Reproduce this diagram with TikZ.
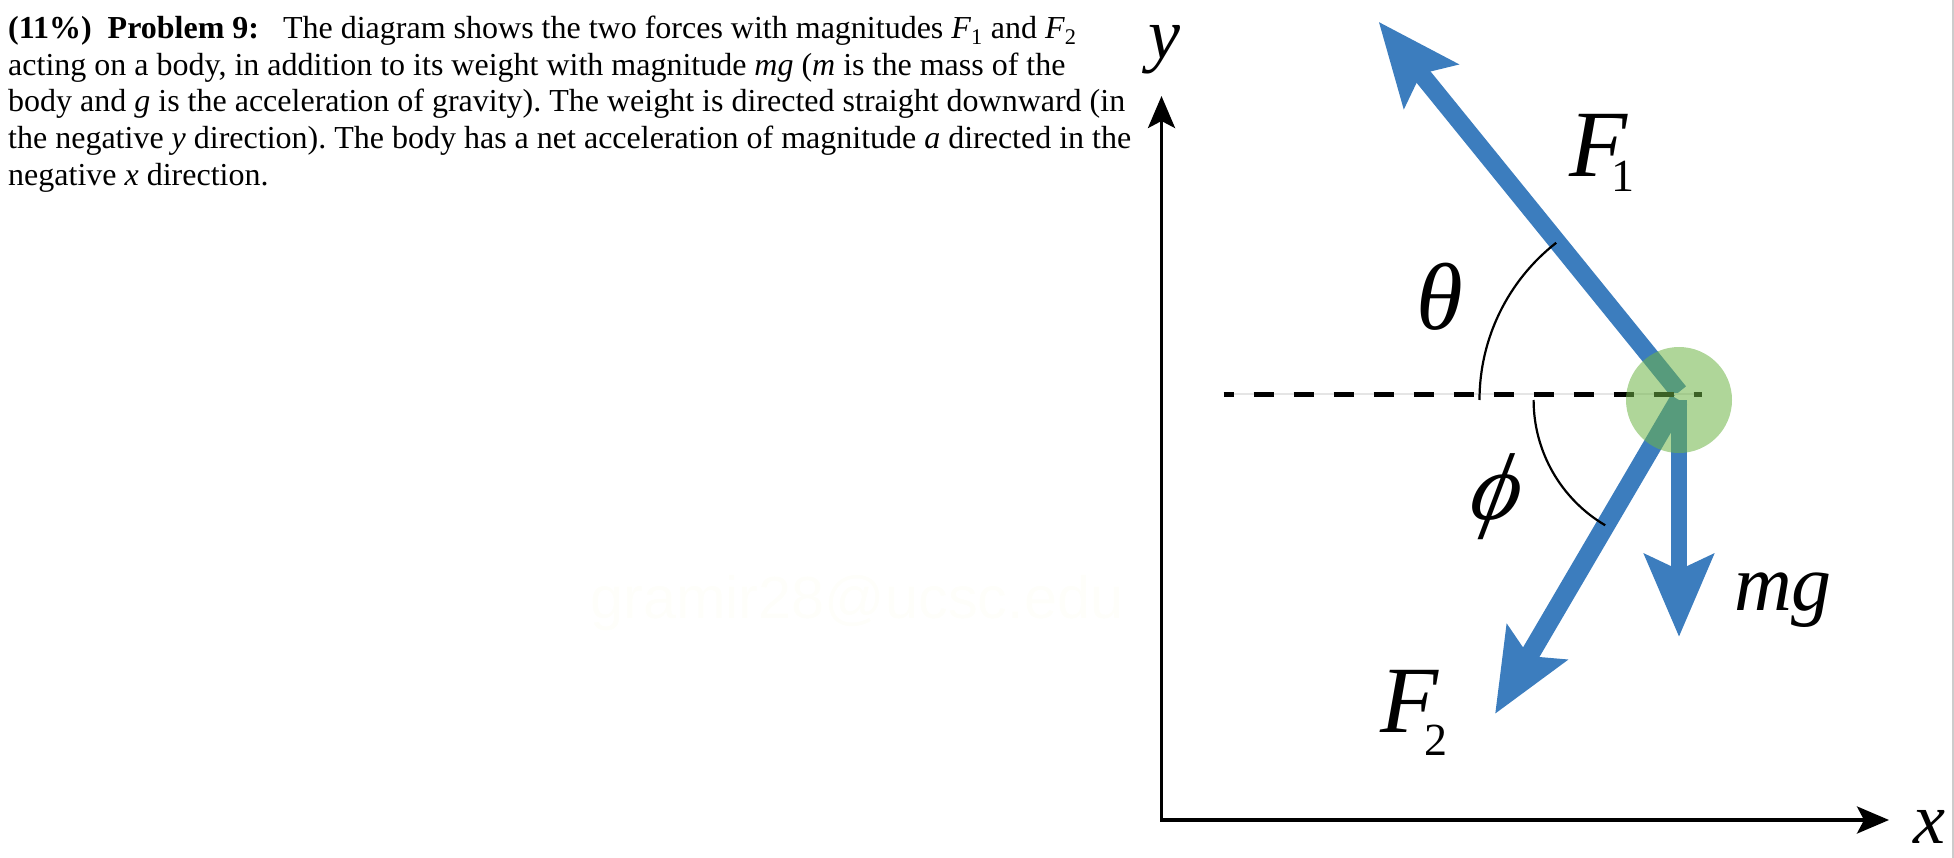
\documentclass[tikz,border=0pt]{standalone}
\usepackage{fontspec}
\setmainfont{Liberation Serif}
\setsansfont{Liberation Sans}
\usetikzlibrary{arrows.meta}
\definecolor{forceblue}{RGB}{60,125,190}
\definecolor{bodygreen}{RGB}{110,180,70}
\definecolor{markfaint}{RGB}{254,254,250}
\def\daxis{\draw[line width=3.5pt,{Stealth[length=32pt,width=27pt,inset=7pt]}-{Stealth[length=32pt,width=27pt,inset=7pt]}]}
\def\dangle{\draw[line width=2.2pt]}
\def\fsub#1#2#3{F\kern#2pt\raisebox{#3pt}{\fontsize{46}{46}\selectfont\upshape #1}}
\tikzset{
  forcearrow/.style={forceblue,-{Stealth[length=82pt,width=68pt,inset=15pt]}},
  bigsym/.style={inner sep=0pt,font=\fontsize{95}{95}\selectfont\itshape},
  mgsym/.style={inner sep=0pt,font=\fontsize{80}{80}\selectfont\itshape},
  axissym/.style={inner sep=0pt,font=\fontsize{72}{72}\selectfont\itshape}
}
\begin{document}
\begin{tikzpicture}[x=1pt,y=-1pt]
                \useasboundingbox (0,0) rectangle (1954,858);
                \draw[black!20,line width=1.5pt] (1953,0) -- (1953,858);
                \node (watermark) [anchor=base west,inner sep=0pt,text=markfaint,font=\fontsize{59.5}{60}\selectfont\sffamily] at (590,618) {gramir28@ucsc.edu};
                \node (problem) [anchor=north west,inner sep=0pt,align=left,font=\fontsize{32}{36.6}\selectfont\frenchspacing] at (8,16)
                    {\textbf{(11\%)\ \ Problem 9:}\ \ \ The diagram shows the two forces with magnitudes \textit{F}\textsubscript{1} and \textit{F}\textsubscript{2}\\
                    acting on a body, in addition to its weight with magnitude \textit{mg} (\textit{m} is the mass of the\\
                    body and \textit{g} is the acceleration of gravity). The weight is directed straight downward (in\\
                    the negative \textit{y} direction). The body has a net acceleration of magnitude \textit{a} directed in the\\
                    negative \textit{x} direction.};
                \coordinate (origin) at (1161.5,820);
                \coordinate (ytip) at (1161.5,96);
                \coordinate (xtip) at (1889,820);
                \coordinate (body) at (1679,400);
                \coordinate (tipa) at (1378.6,21.7);
                \coordinate (tipb) at (1495,714);
                \coordinate (tipw) at (1679,637);
                \draw[forcearrow,line width=18pt] ([shift={(0,-8)}]body) -- (tipa);
                \draw[forcearrow,line width=19pt] (body) -- (tipb);
                \draw[forcearrow,line width=16pt] (body) -- (tipw);
                \daxis (ytip) -- (origin) -- (xtip);
                \draw[black!10,line width=2pt] (1223.5,394) -- (1701.7,394);
                \draw[line width=5pt,dash pattern=on 20pt off 20pt,dash phase=10pt] (1223.5,394) -- (1701.7,394);
                \fill[bodygreen,opacity=0.55] (body) circle (53);
                \dangle (body) ++(180:199.5) arc (180:232:199.5);
                \dangle (body) ++(180:145.4) arc (180:120.5:145.4);
                \node (labely) [axissym] at (1164,50) {y};
                \node (labelx) [axissym] at (1929,827) {x};
                \node (labelfa) [bigsym,anchor=base west] at (1569,177) {\fsub{1}{-16}{-15}};
                \node (labelfb) [bigsym,anchor=base west] at (1380,732) {\fsub{2}{-14}{-23}};
                \node (labelmg) [mgsym] at (1783,600) {mg};
                \node (labeltheta) [bigsym] at (1440,297) {θ};
                \node (labelphi) [bigsym,xslant=0.2,transform shape] at (1497,497) {ϕ};
            \end{tikzpicture}
\end{document}
